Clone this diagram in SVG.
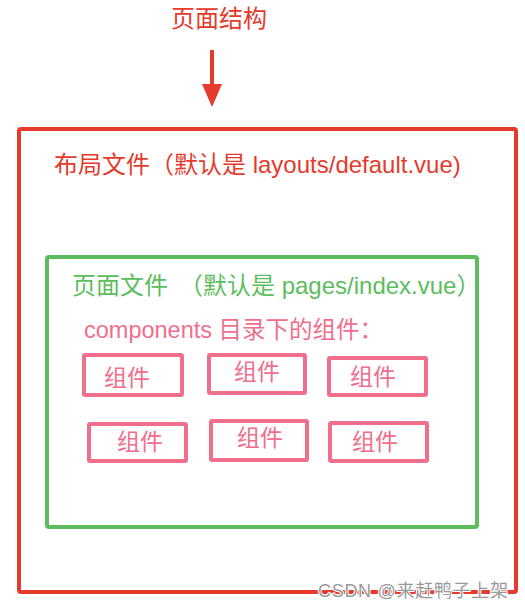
<svg xmlns="http://www.w3.org/2000/svg" width="525" height="609" viewBox="0 0 525 609">
<style>
text{font-family:"Liberation Sans","Noto Sans CJK SC",sans-serif}
.red{fill:#e53a2c}
.green{fill:#5cbd5e}
.pink{fill:#ef6f8d}
.box{fill:none;stroke:#ef6f8d;stroke-width:4;}
.wm{fill:#9a9a9a;stroke:#ffffff;stroke-width:2;paint-order:stroke;font-size:18px}
</style>
<g id="title">
<text class="red" x="171" y="27" font-size="24">页面结构</text>
</g>
<g id="connectors">
<line x1="212" y1="50" x2="212" y2="86" stroke="#e53a2c" stroke-width="4"/>
<polygon points="202,84 222,84 212,107" fill="#e53a2c"/>
</g>
<g id="layout">
<rect x="19" y="129" width="497" height="463" rx="2" fill="none" stroke="#e53a2c" stroke-width="4"/>
<text class="red" x="54" y="173" font-size="24">布局文件（默认是 layouts/default.vue)</text>
</g>
<g id="page">
<rect x="47" y="257" width="430" height="270" rx="2" fill="none" stroke="#5cbd5e" stroke-width="4"/>
<text class="green" x="72" y="294" font-size="24">页面文件<tspan x="179">（默认是 pages/index.vue）</tspan></text>
</g>
<g id="components">
<text class="pink" x="84" y="338" font-size="23.5">components 目录下的组件：</text>
</g>
<g id="comp1"><rect class="box" x="84" y="355" width="98" height="40" rx="1"/><text class="pink" x="127" y="386" font-size="23" text-anchor="middle">组件</text></g>
<g id="comp2"><rect class="box" x="209" y="355" width="96" height="38" rx="1"/><text class="pink" x="257" y="380" font-size="23" text-anchor="middle">组件</text></g>
<g id="comp3"><rect class="box" x="329" y="358" width="97" height="37" rx="1"/><text class="pink" x="373" y="385" font-size="23" text-anchor="middle">组件</text></g>
<g id="comp4"><rect class="box" x="89" y="424" width="97" height="37" rx="1"/><text class="pink" x="140" y="450" font-size="23" text-anchor="middle">组件</text></g>
<g id="comp5"><rect class="box" x="211" y="421" width="96" height="39" rx="1"/><text class="pink" x="260" y="446" font-size="23" text-anchor="middle">组件</text></g>
<g id="comp6"><rect class="box" x="330" y="423" width="97" height="38" rx="1"/><text class="pink" x="375" y="450" font-size="23" text-anchor="middle">组件</text></g>
<g id="watermark">
<text class="wm" x="318" y="597" textLength="190" lengthAdjust="spacing">CSDN @来赶鸭子上架</text>
</g>
</svg>
